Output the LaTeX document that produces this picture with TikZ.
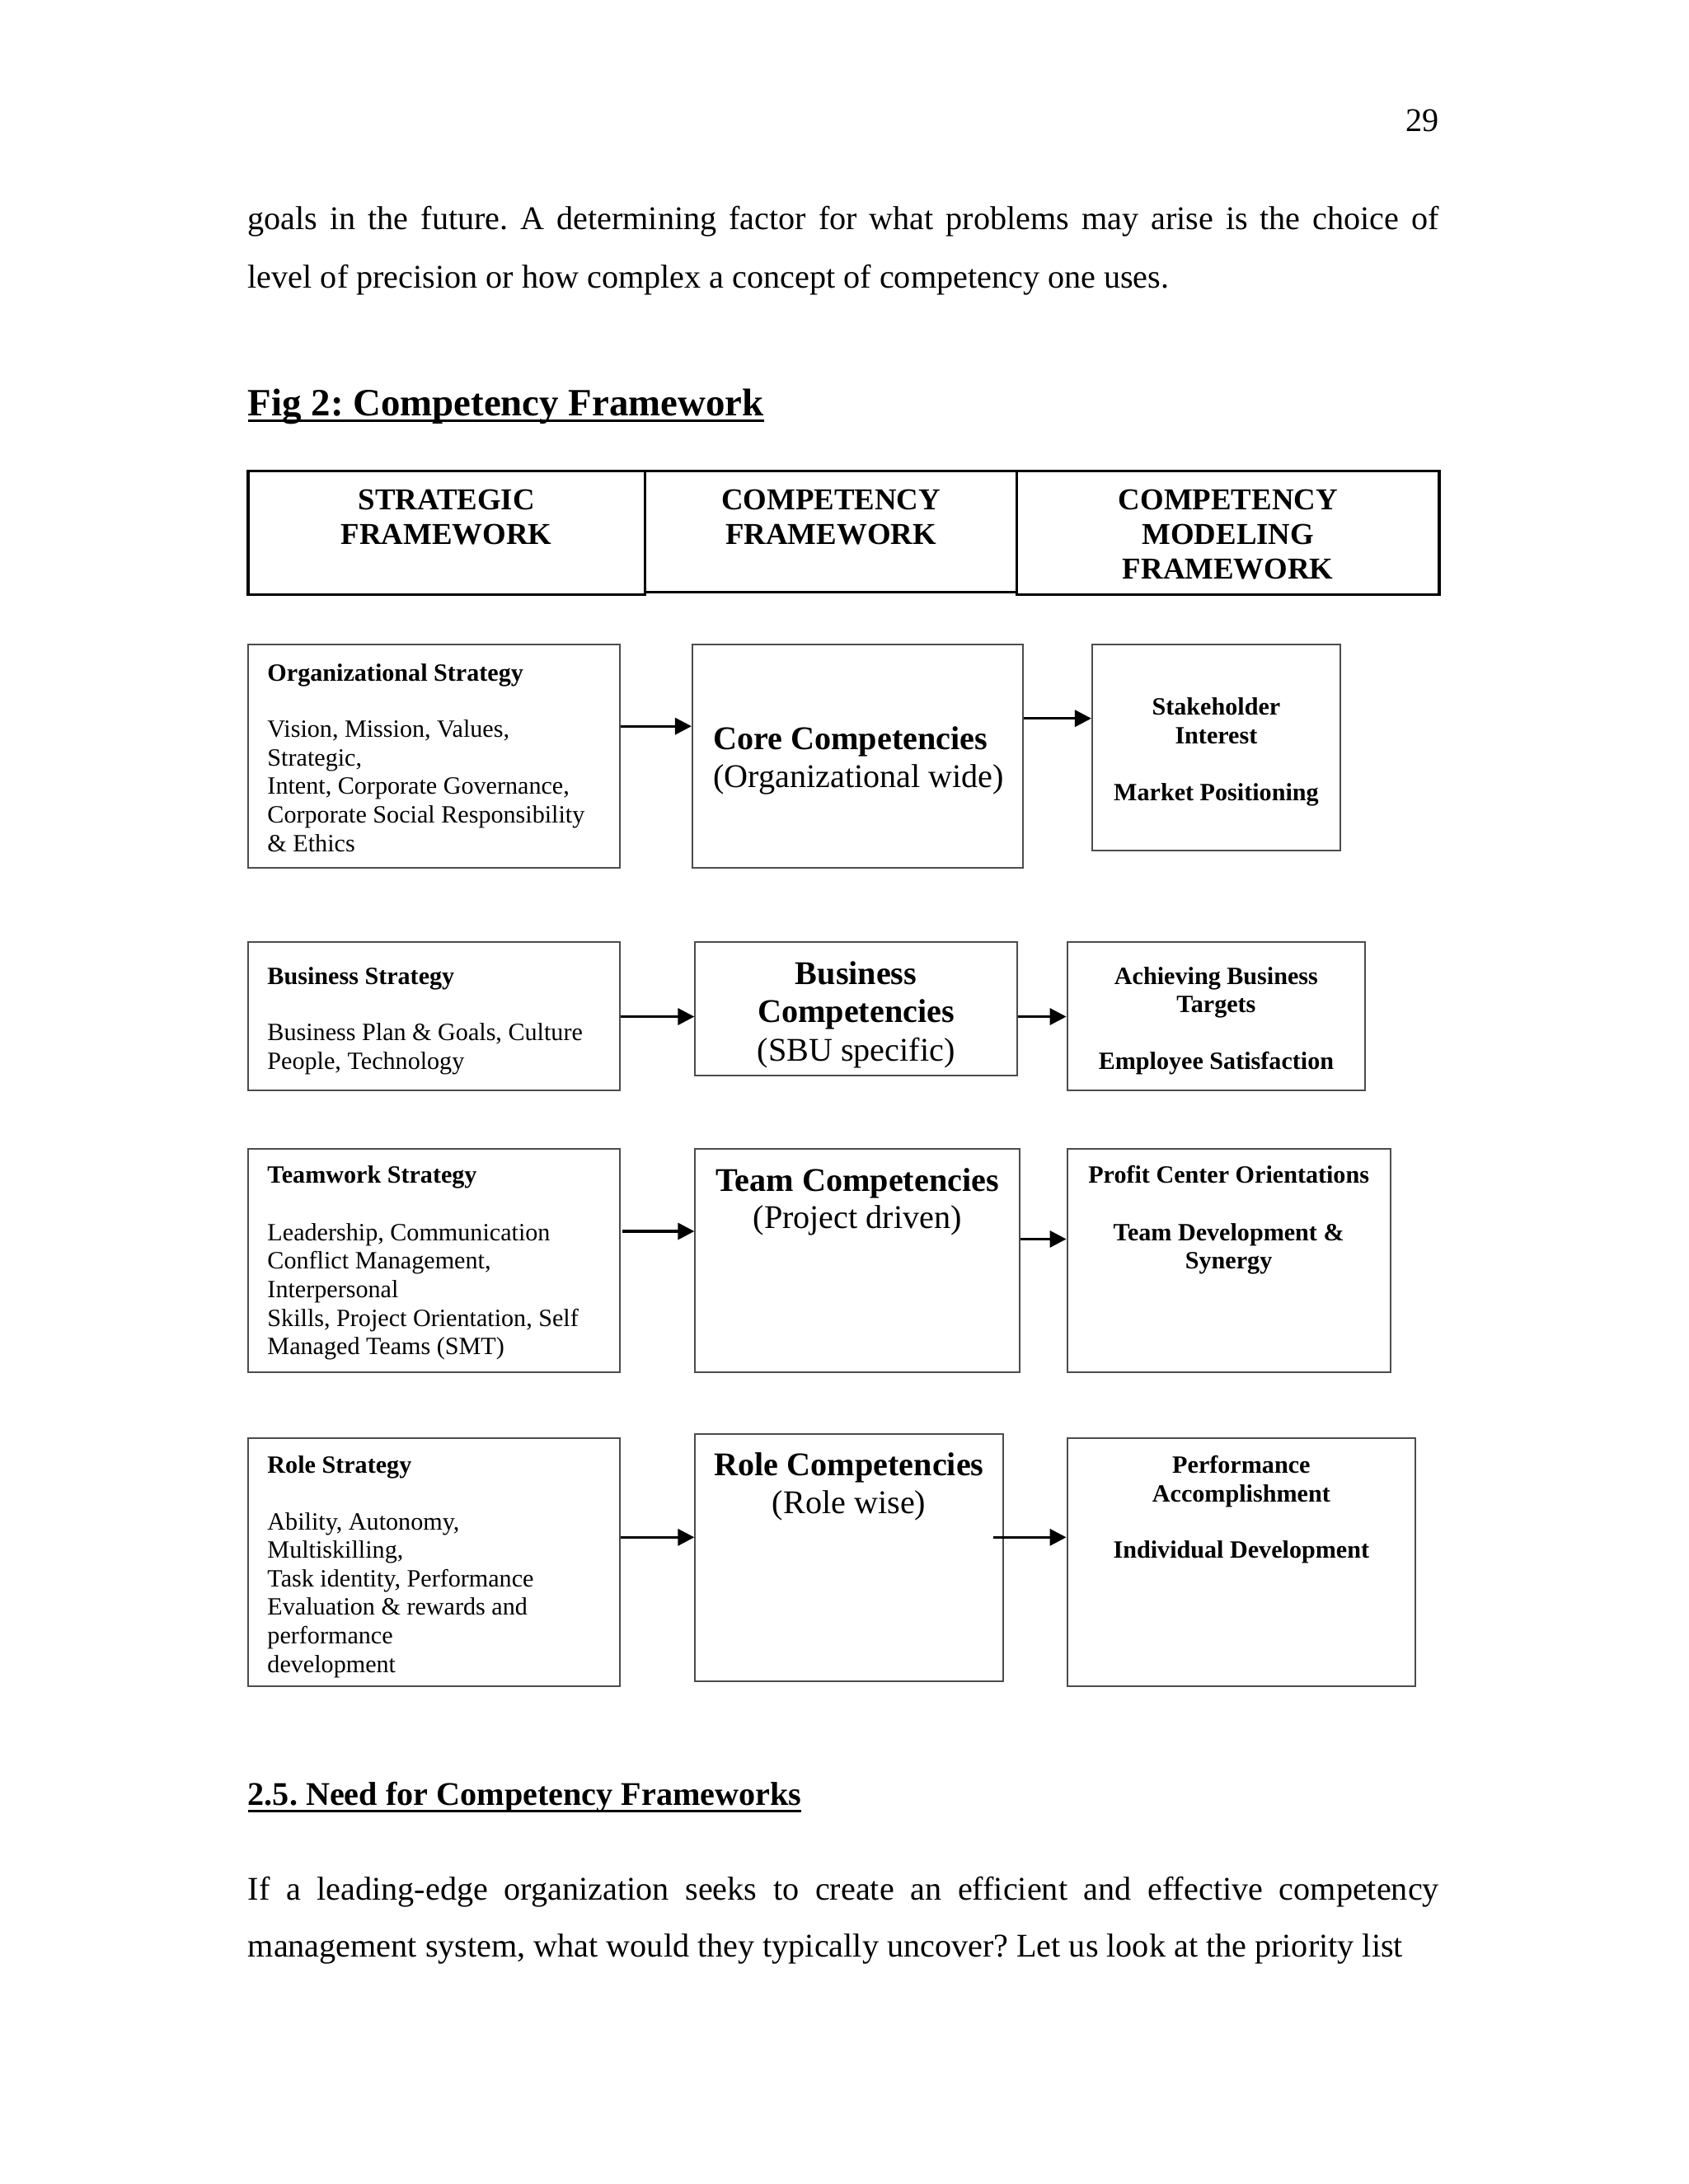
\documentclass[tikz,border=0pt]{standalone}
\usepackage{fontspec}
\setmainfont{Liberation Serif}
\usetikzlibrary{arrows.meta,fit,calc}
\frenchspacing
\begin{document}
\begin{tikzpicture}[x=0.50495pt,y=-0.50495pt,
 box/.style={draw=black!70,line width=0.6pt,inner sep=0pt},
 hbox/.style={draw=black,line width=1pt,inner sep=0pt},
 arr/.style={draw=black,line width=1pt,-{Triangle[length=6pt,width=6pt]}},
 txt/.style={inner sep=0pt,outer sep=0pt,yshift=-0.7pt},
 sm/.style={txt,font=\fontsize{9}{10.35}\selectfont,anchor=base west},
 smb/.style={txt,font=\fontsize{9}{10.35}\selectfont\bfseries,anchor=base west},
 rb/.style={txt,font=\fontsize{9}{10.35}\selectfont\bfseries,anchor=base},
 hd/.style={txt,font=\fontsize{11}{12.65}\selectfont\bfseries,anchor=base},
 mb/.style={txt,font=\fontsize{12}{13.8}\selectfont\bfseries,anchor=base},
 mr/.style={txt,font=\fontsize{12}{13.8}\selectfont,anchor=base},
 body/.style={txt,font=\fontsize{12}{13.8}\selectfont,anchor=base west},
 ttl/.style={txt,font=\fontsize{14}{16.1}\selectfont\bfseries,anchor=base west},
 ul/.style={line width=0.9pt}
]
\fill[white] (0,0) rectangle (1212,1568);
\useasboundingbox (0,0) rectangle (1212,1568);

% page number and text
\node[txt,font=\fontsize{12}{13.8}\selectfont,anchor=base east] (pn) at (1033,93.1) {29};
\node[body] (p1) at (178,163.7) {\hbox to 431.7pt{goals in the future. A determining factor for what problems may arise is the choice of}};
\node[body] (p2) at (178,205.2) {level of precision or how complex a concept of competency one uses.};
\node[ttl] (fig) at (178,296.9) {Fig 2: Competency Framework};
\draw[ul] ([yshift=-2pt]fig.base west) -- ([yshift=-2pt]fig.base east);

% header boxes
\node[hbox,fit={(178,338) (463,427)}] (H1) {};
\node[hbox,fit={(463,338) (730,425)}] (H2) {};
\node[hbox,fit={(730,338) (1033,427)}] (H3) {};
\node[hd] (h1a) at (320.5,364.3) {STRATEGIC};
\node[hd] (h1b) at (320.5,389.2) {FRAMEWORK};
\node[hd] (h2a) at (596.5,364.3) {COMPETENCY};
\node[hd] (h2b) at (596.5,389.2) {FRAMEWORK};
\node[hd] (h3a) at (881.5,364.3) {COMPETENCY};
\node[hd] (h3b) at (881.5,389.2) {MODELING};
\node[hd] (h3c) at (881.5,414.3) {FRAMEWORK};

% row 1
\node[box,fit={(178,462.6) (445,623.3)}] (L1) {};
\node[box,fit={(497,462.6) (734,623.3)}] (C1) {};
\node[box,fit={(784,462.6) (962,610.9)}] (R1) {};
\node[smb] (l1a) at (192,487.5) {Organizational Strategy};
\node[sm] (l1b) at (192,528) {Vision, Mission, Values,};
\node[sm] (l1c) at (192,548.5) {Strategic,};
\node[sm] (l1d) at (192,569) {Intent, Corporate Governance,};
\node[sm] (l1e) at (192,589.5) {Corporate Social Responsibility};
\node[sm] (l1f) at (192,610) {\& Ethics};
\node[mb,anchor=base west] (c1a) at (512,536.6) {Core Competencies};
\node[mr,anchor=base west] (c1b) at (512,564.2) {(Organizational wide)};
\node[rb] (r1a) at (873,512) {Stakeholder};
\node[rb] (r1b) at (873,532.5) {Interest};
\node[rb] (r1c) at (873,573.5) {Market Positioning};
\coordinate (y1a) at (0,521.4);
\coordinate (y1b) at (0,515.8);
\draw[arr] (L1.east |- y1a) -- (C1.west |- y1a);
\draw[arr] (C1.east |- y1b) -- (R1.west |- y1b);

% row 2
\node[box,fit={(178,676.6) (445,782.8)}] (L2) {};
\node[box,fit={(499,676.6) (730,772.3)}] (C2) {};
\node[box,fit={(766,676.6) (980,782.8)}] (R2) {};
\node[smb] (l2a) at (192,705.2) {Business Strategy};
\node[sm] (l2b) at (192,745.6) {Business Plan \& Goals, Culture};
\node[sm] (l2c) at (192,766.2) {People, Technology};
\node[mb] (c2a) at (614.5,705.2) {Business};
\node[mb] (c2b) at (614.5,732.8) {Competencies};
\node[mr] (c2c) at (614.5,760.5) {(SBU specific)};
\node[rb] (r2a) at (873,705.2) {Achieving Business};
\node[rb] (r2b) at (873,725.7) {Targets};
\node[rb] (r2c) at (873,766.4) {Employee Satisfaction};
\coordinate (y2) at (0,729.9);
\draw[arr] (L2.east |- y2) -- (C2.west |- y2);
\draw[arr] (C2.east |- y2) -- (R2.west |- y2);

% row 3
\node[box,fit={(178,825) (445,985.1)}] (L3) {};
\node[box,fit={(499,825) (732,985.1)}] (C3) {};
\node[box,fit={(766,825) (998,985.1)}] (R3) {};
\node[smb] (l3a) at (192,848.2) {Teamwork Strategy};
\node[sm] (l3b) at (192,889.3) {Leadership, Communication};
\node[sm] (l3c) at (192,909.8) {Conflict Management,};
\node[sm] (l3d) at (192,930.3) {Interpersonal};
\node[sm] (l3e) at (192,950.8) {Skills, Project Orientation, Self};
\node[sm] (l3f) at (192,971.3) {Managed Teams (SMT)};
\node[mb] (c3a) at (615.5,853.8) {Team Competencies};
\node[mr] (c3b) at (615.5,880.8) {(Project driven)};
\node[rb] (r3a) at (882,848.2) {Profit Center Orientations};
\node[rb] (r3b) at (882,889.3) {Team Development \&};
\node[rb] (r3c) at (882,909.8) {Synergy};
\coordinate (y3a) at (0,884);
\coordinate (y3b) at (0,889.6);
\coordinate (s3) at (447,884);
\draw[arr] (s3) -- (C3.west |- y3a);
\draw[arr] (C3.east |- y3b) -- (R3.west |- y3b);

% row 4
\node[box,fit={(178,1032.7) (445,1210.8)}] (L4) {};
\node[box,fit={(499,1029.7) (720,1207.3)}] (C4) {};
\node[box,fit={(766,1032.7) (1016,1210.8)}] (R4) {};
\node[smb] (l4a) at (192,1056.3) {Role Strategy};
\node[sm] (l4b) at (192,1096.8) {Ability, Autonomy,};
\node[sm] (l4c) at (192,1117.3) {Multiskilling,};
\node[sm] (l4d) at (192,1137.8) {Task identity, Performance};
\node[sm] (l4e) at (192,1158.3) {Evaluation \& rewards and};
\node[sm] (l4f) at (192,1178.8) {performance};
\node[sm] (l4g) at (192,1199.3) {development};
\node[mb] (c4a) at (609.5,1058.3) {Role Competencies};
\node[mr] (c4b) at (609.5,1085) {(Role wise)};
\node[rb] (r4a) at (891,1056.3) {Performance};
\node[rb] (r4b) at (891,1076.8) {Accomplishment};
\node[rb] (r4c) at (891,1117.3) {Individual Development};
\coordinate (y4) at (0,1103.7);
\coordinate (s4) at (712.9,1103.7);
\draw[arr] (L4.east |- y4) -- (C4.west |- y4);
\draw[arr] (s4) -- (R4.west |- y4);

% section heading and text
\node[txt,font=\fontsize{12}{13.8}\selectfont\bfseries,anchor=base west] (sec) at (178,1295) {2.5. Need for Competency Frameworks};
\draw[ul] ([yshift=-1.8pt]sec.base west) -- ([yshift=-1.8pt]sec.base east);
\node[body] (q1) at (178,1363) {\hbox to 431.7pt{If a leading-edge organization seeks to create an efficient and effective competency}};
\node[body] (q2) at (178,1403.5) {management system, what would they typically uncover? Let us look at the priority list};
\end{tikzpicture}
\end{document}
